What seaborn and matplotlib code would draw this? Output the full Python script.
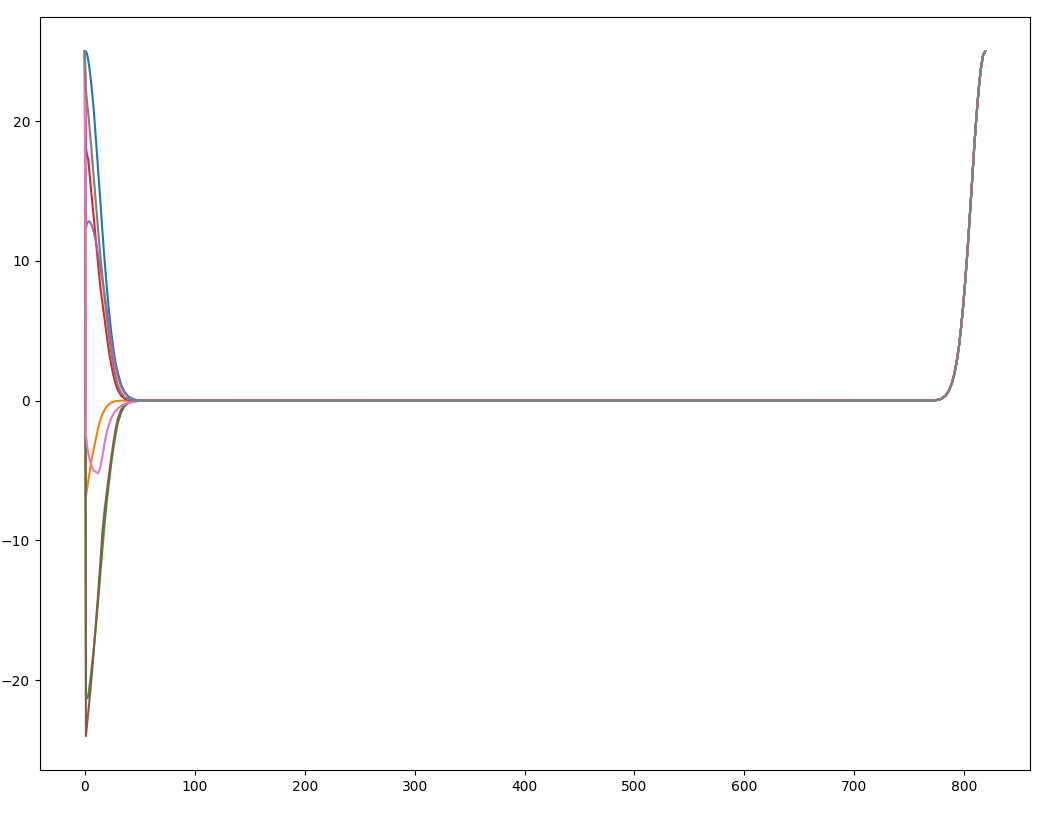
import matplotlib
matplotlib.use("Agg")
import matplotlib.pyplot as plt
from matplotlib.ticker import MultipleLocator
import pandas as pd
import seaborn as sns

# sample positions on the left (decay) and right (rise) parts of the curves
left_x = [0, 1, 2, 3, 4, 6, 8, 10, 12, 14, 16, 18, 20, 22, 24, 26, 28, 30, 33, 36, 40, 45, 50, 55]
right_x = [769, 774, 779, 783, 786, 789, 791, 793, 795, 797, 799, 801, 803, 805, 807, 809, 811, 813, 815, 817, 819]

# shared rise at the right end (all curves overlap there)
right_tail = [0.01, 0.03, 0.13, 0.36, 0.71, 1.32, 1.93, 2.75, 3.8, 5.15, 6.8, 8.7, 10.8, 13.2,
              15.6, 18.1, 20.3, 22.2, 23.7, 24.7, 25.0]

blue = [25.0, 25.0, 24.8, 24.4, 23.9, 22.6, 20.9, 18.8, 16.6, 14.4, 12.1, 10.0, 8.1, 6.4,
        4.9, 3.7, 2.7, 2.0, 1.15, 0.64, 0.27, 0.08, 0.02, 0.0]
orange = [25.0, -6.8, -6.3, -5.8, -5.3, -4.3, -3.5, -2.7, -2.0, -1.4, -0.95, -0.65, -0.4, -0.25,
          -0.14, -0.07, -0.03, -0.01, 0.0, 0.0, 0.0, 0.0, 0.0, 0.0]
green = [25.0, -21.0, -21.3, -21.2, -20.6, -19.3, -17.8, -16.2, -14.4, -12.5, -10.6, -8.8, -7.2, -5.8,
         -4.5, -3.4, -2.4, -1.6, -0.85, -0.4, -0.15, -0.04, -0.01, 0.0]
red = [25.0, 18.1, 17.6, 17.3, 16.5, 14.8, 13.2, 11.5, 9.8, 8.2, 7.0, 5.8, 4.6, 3.5,
       2.6, 1.8, 1.2, 0.75, 0.35, 0.15, 0.05, 0.01, 0.0, 0.0]
purple = [25.0, 12.4, 12.7, 12.8, 12.85, 12.6, 12.1, 11.4, 10.5, 9.6, 8.6, 7.6, 6.5, 5.4,
          4.3, 3.3, 2.45, 1.75, 1.0, 0.55, 0.22, 0.07, 0.02, 0.0]
brown = [25.0, -24.0, -23.2, -22.4, -21.6, -19.9, -18.0, -16.0, -13.9, -11.7, -9.4, -7.8, -6.5, -5.3,
         -4.1, -3.0, -2.0, -1.3, -0.65, -0.3, -0.12, -0.04, -0.01, 0.0]
pink = [25.0, -2.4, -3.2, -3.7, -4.1, -4.65, -5.0, -5.1, -5.2, -4.8, -4.0, -3.0, -2.2, -1.7,
        -1.25, -0.95, -0.72, -0.55, -0.38, -0.25, -0.15, -0.06, -0.02, 0.0]
gray = [25.0, 22.2, 21.4, 20.6, 19.8, 18.0, 16.1, 14.2, 12.3, 10.5, 8.9, 7.3, 5.9, 4.6,
        3.5, 2.5, 1.7, 1.1, 0.55, 0.25, 0.08, 0.02, 0.0, 0.0]

series = [blue, orange, green, red, purple, brown, pink, gray]

rows = []
for i, vals in enumerate(series):
    for x, y in zip(left_x + right_x, vals + right_tail):
        rows.append({"x": x, "y": y, "s": str(i)})
df = pd.DataFrame(rows)

fig = plt.figure(figsize=(10.48, 8.16), dpi=100)
ax = fig.add_subplot(111)
fig.subplots_adjust(left=0.038, right=0.983, top=0.979, bottom=0.056)

sns.lineplot(data=df, x="x", y="y", hue="s", palette=sns.color_palette("tab10")[:8],
             estimator=None, sort=False, legend=False, linewidth=1.5, ax=ax)
ax.xaxis.set_major_locator(MultipleLocator(100))
ax.set_xlabel("")
ax.set_ylabel("")

fig.savefig("out.png", dpi=100)
